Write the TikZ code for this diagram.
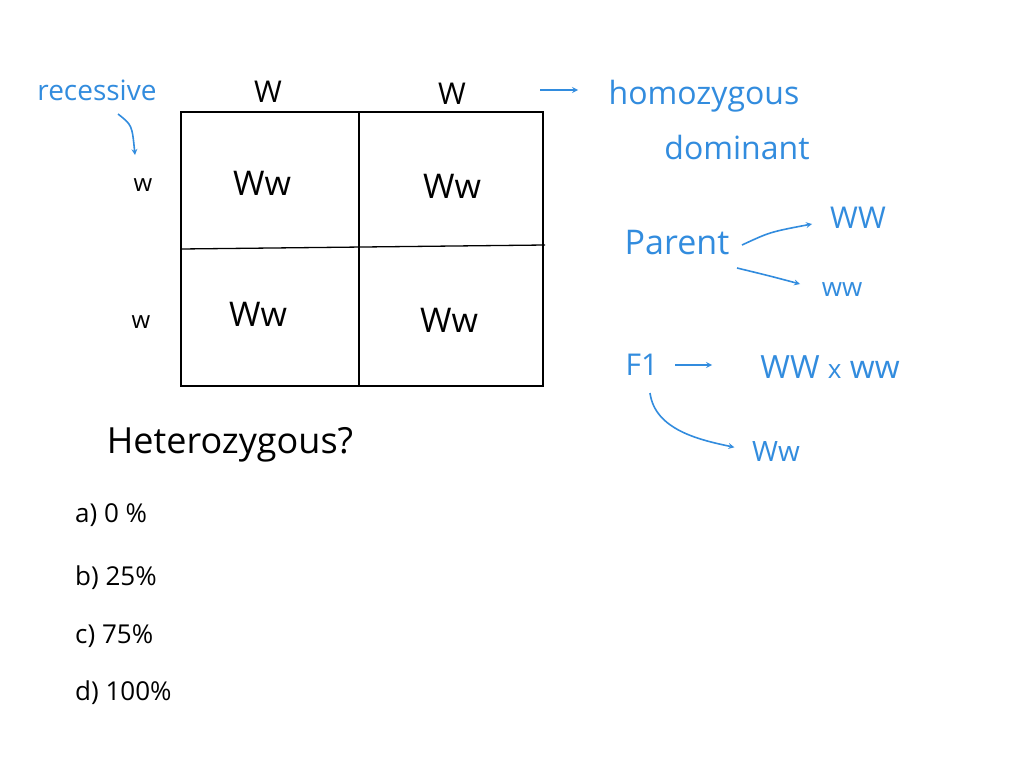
\documentclass[tikz,border=0pt]{standalone}
\usepackage{fontspec}
\setmainfont{Open Sans}
\definecolor{pen}{RGB}{50,140,222}
\begin{document}
\begin{tikzpicture}[x=1pt,y=-1pt,
  blk/.style={text=black,inner sep=0pt},
  blu/.style={text=pen,inner sep=0pt},
  barr/.style={draw=pen,line width=1.6pt,-stealth},
  fs/.style={font=\fontsize{#1}{#1}\selectfont}]
\useasboundingbox[fill=white] (0,0) rectangle (1024,768);
% grid
\draw[line width=1.3pt] (181,112) rectangle (543,386);
\draw[line width=1.3pt] (359,112) -- (359,386);
\draw[line width=1.3pt] (181,249) -- (545,245);
% headers
\node[blk,fs=30] (c1) at (268,92) {W};
\node[blk,fs=30] (c2) at (452,94) {W};
\node[blk,fs=24] (r1) at (143,185) {w};
\node[blk,fs=24] (r2) at (141,322) {w};
\node[blk,fs=34] (a) at (262,183) {Ww};
\node[blk,fs=34] (b) at (452,186) {Ww};
\node[blk,fs=34] (c) at (258,314) {Ww};
\node[blk,fs=34] (d) at (449,320) {Ww};
% recessive
\node[blu,fs=28] (rec) at (97,90) {recessive};
\coordinate (rt) at (135,155);
\draw[barr] (118,114) .. controls (132,125) .. (rt);
% homozygous
\node[blu,fs=32] (hom) at (704,96) {homozygous};
\node[blu,fs=32] (dom) at (737,147) {dominant};
\coordinate (h0) at (540,90);
\coordinate (h1) at (578,90);
\draw[barr] (h0) -- (h1);
% parent
\node[blu,fs=34] (par) at (677,243) {Parent};
\node[blu,fs=30] (WW1) at (858,218) {WW};
\node[blu,fs=26] (ww1) at (842,290) {ww};
\draw[barr] (742,245) .. controls (770,232) .. (812,224);
\draw[barr] (737,268) .. controls (770,276) .. (800,284);
% F1
\node[blu,fs=30] (f1) at (642,365) {F1};
\draw[barr] (675,365) -- (712,365);
\node[blu,fs=32] (cross) at (830,367) {WW {\fontsize{26}{26}\selectfont x} ww};
\node[blu,fs=28] (Ww2) at (776,451) {Ww};
\draw[barr,shorten >=18pt] (650,393) .. controls (655,430) and (700,440) .. (Ww2.west);
% question
\node[blk,fs=36] (q) at (230,445) {Heterozygous?};
\node[blk,fs=26,anchor=west] (o1) at (75,515) {a) 0 \%};
\node[blk,fs=26,anchor=west] (o2) at (75,578) {b) 25\%};
\node[blk,fs=26,anchor=west] (o3) at (75,636) {c) 75\%};
\node[blk,fs=26,anchor=west] (o4) at (75,693) {d) 100\%};
\end{tikzpicture}
\end{document}
